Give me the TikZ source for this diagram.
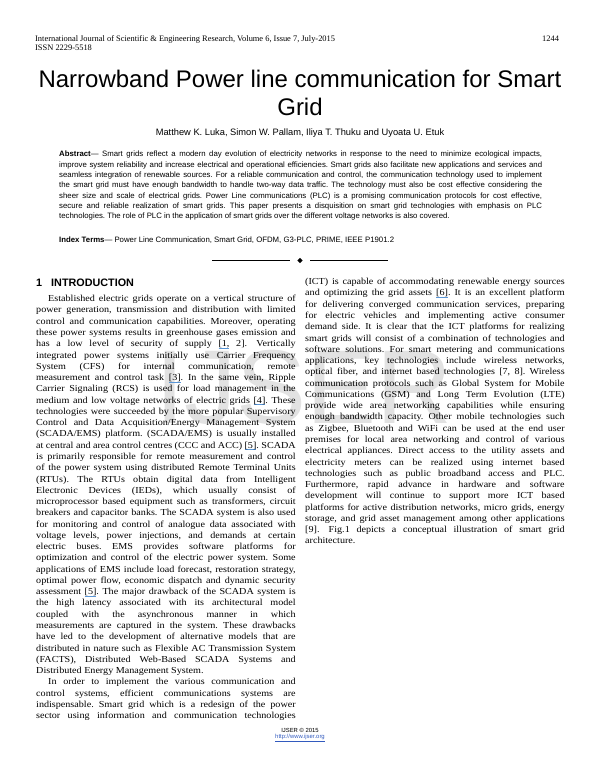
\documentclass[tikz,border=0pt]{standalone}
\usepackage{fontspec}
\usepackage{xcolor}
\usepackage{tikz}
\usetikzlibrary{positioning,shapes.geometric}
\setmainfont{Liberation Serif}
\setsansfont{Liberation Sans}
\newfontfamily\bodyfont[FakeStretch=1.1]{Liberation Serif}
\definecolor{citeblue}{RGB}{90,150,215}
\definecolor{markgray}{RGB}{226,226,226}
\definecolor{footblue}{RGB}{50,90,190}
\newcommand{\citemark}[1]{\leavevmode\setbox0=\hbox{#1}\rlap{\color{citeblue}\rule[-1.7pt]{\wd0}{0.7pt}}\box0\relax}
\tikzset{
	pagetext/.style={inner sep=0pt,anchor=base west},
	columntext/.style={inner sep=0pt,anchor=north west,text width=259.5pt,align=justify,font=\bodyfont\frenchspacing\fontsize{9.2}{11.27}\selectfont},
	abstracttext/.style={inner sep=0pt,anchor=north west,text width=483pt,align=justify,font=\sffamily\frenchspacing\fontsize{7.8}{10.3}\selectfont}
}
\begin{document}
\begin{tikzpicture}[x=1pt,y=-1pt]
	\useasboundingbox (0,0) rectangle (600,776);
	\node[pagetext,text=markgray,font=\sffamily\fontsize{105}{105}\selectfont] (watermark) at (155,423) {IJSER};

	\begin{scope}[every node/.style={pagetext,font=\fontsize{8.4}{9}\selectfont}]
		\node (journal) at (35,41.5) {International Journal of Scientific \& Engineering Research, Volume 6, Issue 7, July-2015};
		\node (issn) at (35,50.5) {ISSN 2229-5518};
		\node (pagenum) at (542,41.5) {1244};
	\end{scope}

	\node[inner sep=0pt,anchor=base,font=\sffamily\fontsize{24}{26}\selectfont] (title) at (300,88) {Narrowband Power line communication for Smart};
	\node[inner sep=0pt,anchor=base,font=\sffamily\fontsize{24}{26}\selectfont] (titletwo) at (300,115.7) {Grid};
	\node[inner sep=0pt,anchor=base,font=\sffamily\fontsize{9.3}{10}\selectfont] (authors) at (300,135) {Matthew K. Luka, Simon W. Pallam, Iliya T. Thuku and Uyoata U. Etuk};

	\node[abstracttext] (abstract) at (59,151) {\textbf{Abstract}---\ Smart grids reflect a modern day evolution of electricity networks in response to the need to minimize ecological impacts,\linebreak
	improve system reliability and increase electrical and operational efficiencies. Smart grids also facilitate new applications and services and\linebreak
	seamless integration of renewable sources. For a reliable communication and control, the communication technology used to implement\linebreak
	the smart grid must have enough bandwidth to handle two-way data traffic. The technology must also be cost effective considering the\linebreak
	sheer size and scale of electrical grids. Power Line communications (PLC) is a promising communication protocols for cost effective,\linebreak
	secure and reliable realization of smart grids. This paper presents a disquisition on smart grid technologies with emphasis on PLC\linebreak
	technologies. The role of PLC in the application of smart grids over the different voltage networks is also covered.};
	\node[pagetext,font=\sffamily\fontsize{7.8}{9}\selectfont] (indexterms) at (59,242) {\textbf{Index Terms}---\ Power Line Communication, Smart Grid, OFDM, G3-PLC, PRIME, IEEE P1901.2};

	\node[diamond,fill=black,inner sep=0pt,minimum size=5.5pt] (sep) at (300,260.5) {};
	\coordinate (sepleft) at (212,260.5);
	\coordinate (sepright) at (388,260.5);
	\draw[line width=0.5pt] (sepleft) -- ([xshift=-10pt]sep.center);
	\draw[line width=0.5pt] ([xshift=10pt]sep.center) -- (sepright);

	\node[pagetext,font=\sffamily\bfseries\fontsize{10.8}{12}\selectfont] (heading) at (36,286.7) {1\hspace{9pt}INTRODUCTION};

	\node[columntext] (leftcol) at (36,295) {\hspace*{12pt}Established electric grids operate on a vertical structure of\linebreak
	power generation, transmission and distribution with limited\linebreak
	control and communication capabilities. Moreover, operating\linebreak
	these power systems results in greenhouse gases emission and\linebreak
	has a low level of security of supply \citemark{[1,} 2].\quad Vertically\linebreak
	integrated power systems initially use Carrier Frequency\linebreak
	System (CFS) for internal communication, remote\linebreak
	measurement and control task \citemark{[3]}. In the same vein, Ripple\linebreak
	Carrier Signaling (RCS) is used for load management in the\linebreak
	medium and low voltage networks of electric grids \citemark{[4]}. These\linebreak
	technologies were succeeded by the more popular Supervisory\linebreak
	Control and Data Acquisition/Energy Management System\linebreak
	(SCADA/EMS) platform. (SCADA/EMS) is usually installed\linebreak
	at central and area control centres (CCC and ACC) \citemark{[5]}. SCADA\linebreak
	is primarily responsible for remote measurement and control\linebreak
	of the power system using distributed Remote Terminal Units\linebreak
	(RTUs). The RTUs obtain digital data from Intelligent\linebreak
	Electronic Devices (IEDs), which usually consist of\linebreak
	microprocessor based equipment such as transformers, circuit\linebreak
	breakers and capacitor banks. The SCADA system is also used\linebreak
	for monitoring and control of analogue data associated with\linebreak
	voltage levels, power injections, and demands at certain\linebreak
	electric buses. EMS provides software platforms for\linebreak
	optimization and control of the electric power system. Some\linebreak
	applications of EMS include load forecast, restoration strategy,\linebreak
	optimal power flow, economic dispatch and dynamic security\linebreak
	assessment \citemark{[5]}. The major drawback of the SCADA system is\linebreak
	the high latency associated with its architectural model\linebreak
	coupled with the asynchronous manner in which\linebreak
	measurements are captured in the system. These drawbacks\linebreak
	have led to the development of alternative models that are\linebreak
	distributed in nature such as Flexible AC Transmission System\linebreak
	(FACTS), Distributed Web-Based SCADA Systems and\linebreak
	Distributed Energy Management System.\par
	\hspace*{12pt}In order to implement the various communication and\linebreak
	control systems, efficient communications systems are\linebreak
	indispensable. Smart grid which is a redesign of the power\linebreak
	sector using information and communication technologies\parfillskip=0pt\par};

	\node[columntext] (rightcol) at (305,278) {(ICT) is capable of accommodating renewable energy sources\linebreak
	and optimizing the grid assets \citemark{[6]}. It is an excellent platform\linebreak
	for delivering converged communication services, preparing\linebreak
	for electric vehicles and implementing active consumer\linebreak
	demand side. It is clear that the ICT platforms for realizing\linebreak
	smart grids will consist of a combination of technologies and\linebreak
	software solutions. For smart metering and communications\linebreak
	applications, key technologies include wireless networks,\linebreak
	optical fiber, and internet based technologies [7, 8]. Wireless\linebreak
	communication protocols such as Global System for Mobile\linebreak
	Communications (GSM) and Long Term Evolution (LTE)\linebreak
	provide wide area networking capabilities while ensuring\linebreak
	enough bandwidth capacity. Other mobile technologies such\linebreak
	as Zigbee, Bluetooth and WiFi can be used at the end user\linebreak
	premises for local area networking and control of various\linebreak
	electrical appliances. Direct access to the utility assets and\linebreak
	electricity meters can be realized using internet based\linebreak
	technologies such as public broadband access and PLC.\linebreak
	Furthermore, rapid advance in hardware and software\linebreak
	development will continue to support more ICT based\linebreak
	platforms for active distribution networks, micro grids, energy\linebreak
	storage, and grid asset management among other applications\linebreak
	{[9]}.\quad Fig.1 depicts a conceptual illustration of smart grid\linebreak
	architecture.};

	\node[inner sep=0pt,anchor=base,font=\sffamily\fontsize{5.9}{6}\selectfont] (footer) at (300,732) {IJSER © 2015};
	\node[inner sep=0pt,below=2.2pt of footer,text=footblue,font=\sffamily\fontsize{5.9}{6}\selectfont] (footurl) {\underline{http://www.ijser.org}};
\end{tikzpicture}
\end{document}
